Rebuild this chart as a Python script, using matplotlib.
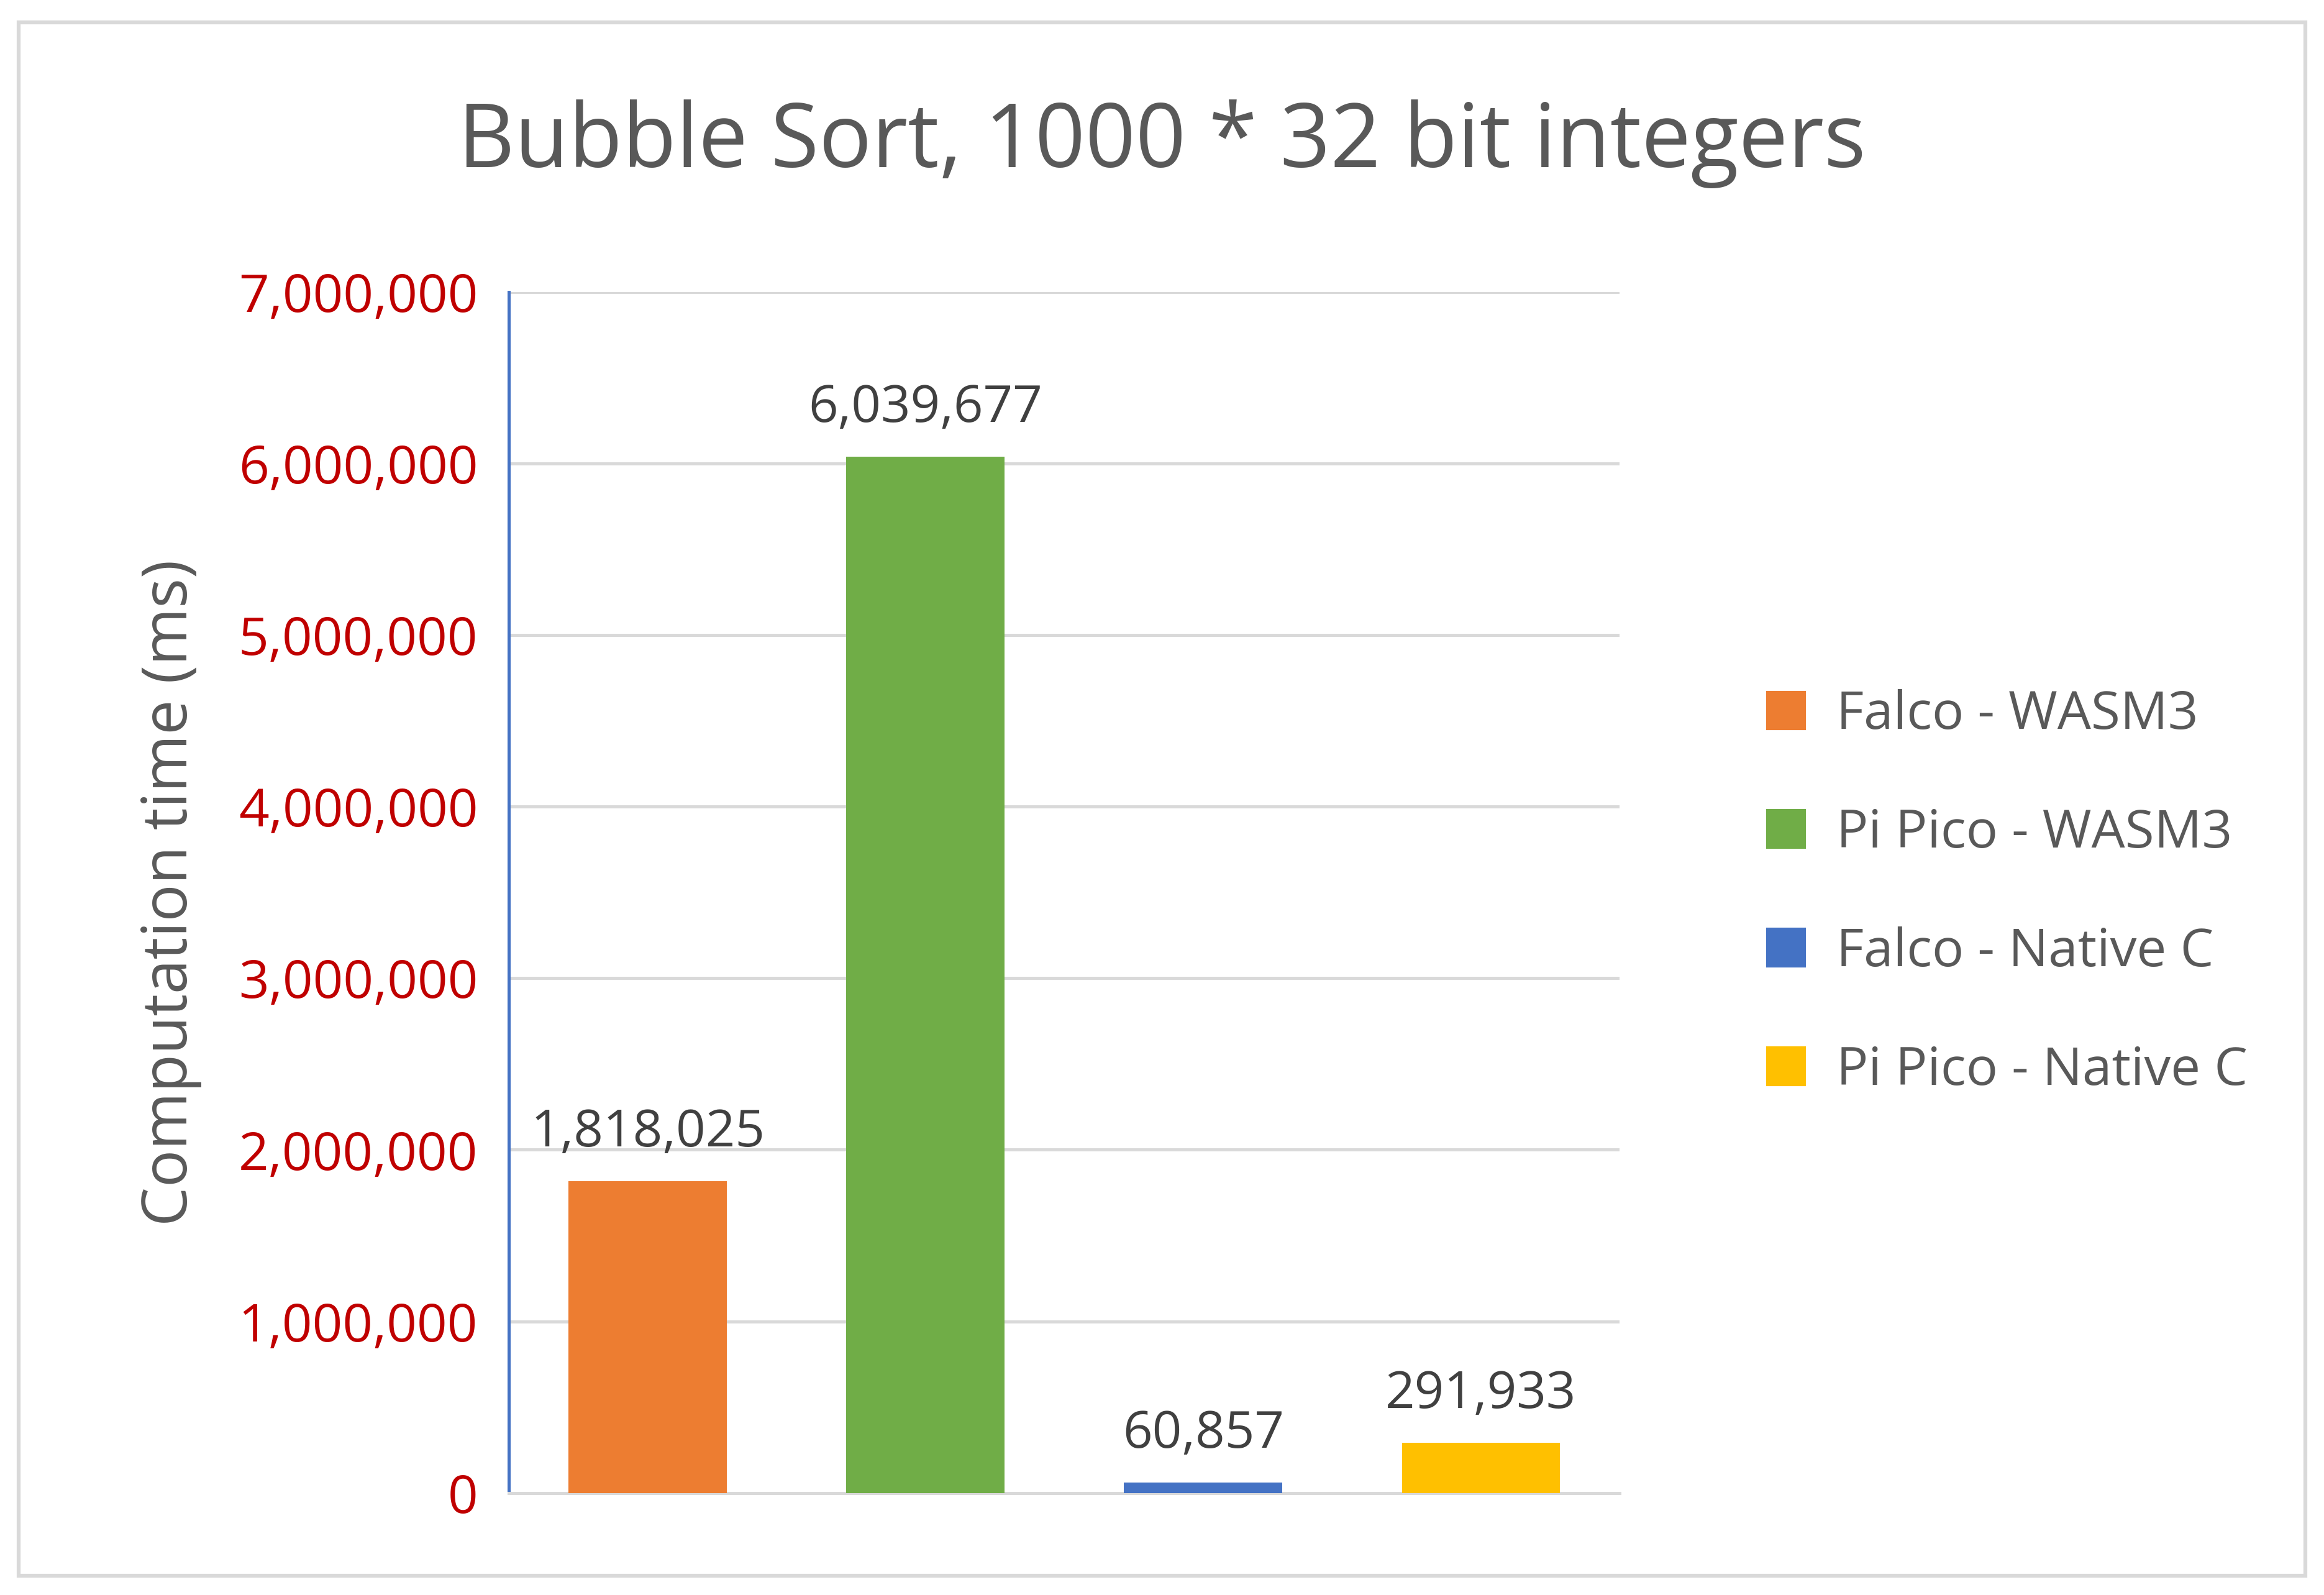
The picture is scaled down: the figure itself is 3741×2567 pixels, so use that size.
import matplotlib
matplotlib.use("Agg")
import matplotlib.pyplot as plt
from matplotlib.patches import Rectangle
from matplotlib.ticker import FuncFormatter

categories = ["Falco - WASM3", "Pi Pico - WASM3", "Falco - Native C", "Pi Pico - Native C"]
values = [1818025, 6039677, 60857, 291933]
colors = ["#ED7D31", "#70AD47", "#4472C4", "#FFC000"]
yticks = [0, 1000000, 2000000, 3000000, 4000000, 5000000, 6000000, 7000000]

plt.rcParams['font.family'] = ['Open Sans', 'DejaVu Sans']
fig = plt.figure(figsize=(12.47, 8.557), dpi=300)
fig.patches.append(Rectangle((0.008, 0.012), 0.984, 0.974, transform=fig.transFigure,
                             fill=False, edgecolor="#D9D9D9", linewidth=1.5))
ax = fig.add_axes([0.219, 0.064, 0.478, 0.753])
x = list(range(len(values)))
bars = ax.bar(x, values, width=0.57, color=colors, label=categories, zorder=3)
for xi, v in zip(x, values):
    ax.text(xi, v + 130000, f"{v:,}", ha="center", va="bottom", fontsize=20, color="#404040")
ax.set_xlim(-0.5, 3.5)
ax.set_ylim(0, 7000000)
ax.set_yticks(yticks)
ax.yaxis.set_major_formatter(FuncFormatter(lambda v, p: f"{int(v):,}"))
ax.tick_params(axis="y", labelsize=20.5, labelcolor="#C00000", length=0, pad=12)
ax.set_xticks([])
ax.grid(axis="y", color="#D9D9D9", linewidth=1.2, zorder=0)
for s in ["top", "right"]:
    ax.spines[s].set_visible(False)
ax.spines["left"].set_color("#4472C4")
ax.spines["left"].set_linewidth(1.2)
ax.spines["bottom"].set_color("#D9D9D9")
ax.spines["bottom"].set_linewidth(1.2)
ax.set_ylabel("Computation time (ms)", fontsize=24, color="#595959", labelpad=14)
fig.text(0.5, 0.91, "Bubble Sort, 1000 * 32 bit integers", ha="center", va="center",
         fontsize=34, color="#595959")
handles = [Rectangle((0, 0), 1, 1, color=c) for c in colors]
fig.legend(handles, categories, loc="center left", bbox_to_anchor=(0.74, 0.44),
           frameon=False, fontsize=20.5, labelcolor="#595959", handlelength=0.7,
           handleheight=0.7, labelspacing=1.25, handletextpad=0.6)
fig.savefig("out.png", dpi=300)
